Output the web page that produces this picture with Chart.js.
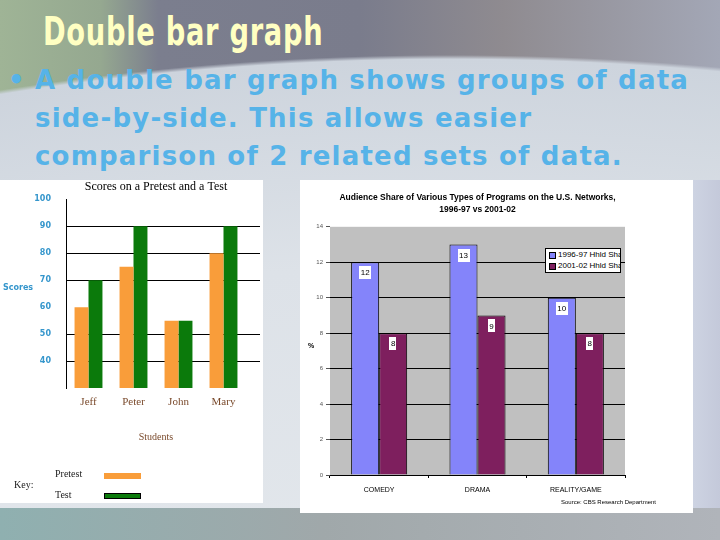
<!DOCTYPE html>
<html>
<head>
<meta charset="utf-8">
<script src="https://cdn.jsdelivr.net/npm/chart.js@4.4.1/dist/chart.umd.min.js"></script>
<style>
body {
    margin: 0;
    width: 720px;
    height: 540px;
    overflow: hidden;
    position: relative;
    background:
        linear-gradient(90deg, rgba(143,176,176,1) 0%, rgba(160,168,170,1) 45%, rgba(176,180,186,1) 100%) 0 508px / 720px 32px no-repeat,
        linear-gradient(90deg, #cdd3e2, #c4c9da) 693px 180px / 27px 330px no-repeat,
        radial-gradient(1440px 700px at 450px 755px, #e6eaee 0%, #dde2e8 70%, #cdd4dd 99.4%, rgba(0,0,0,0) 100%),
        linear-gradient(90deg, #9fb496 0%, #95a890 14%, #7b7e8e 22%, #7a7c8c 50%, #8f8b90 70%, #a3a7b6 100%);
}
.slide-title {
    position: absolute; left: 43px; top: 9px;
    font-family: "DejaVu Sans", sans-serif;
    font-weight: bold; font-size: 39px; letter-spacing: 1px;
    color: #ffffc2;
    transform: scaleX(0.7);
    transform-origin: 0 0;
    white-space: nowrap;
}
.bullet {
    position: absolute; left: 8px; top: 61px; width: 712px;
    font-family: "DejaVu Sans", sans-serif; font-weight: bold;
    font-size: 26px; line-height: 38px; letter-spacing: 1.2px; color: #56b3e8;
}
.bullet span { position: absolute; left: 0; top: 0; }
.bullet div { margin-left: 27px; white-space: nowrap; }
canvas { position: absolute; background: #fff; }
#scores { left: 0; top: 180px; }
#share { left: 300px; top: 180px; }
.note { position: absolute; white-space: nowrap; }
</style>
</head>
<body>
<div class="slide-title">Double bar graph</div>
<div class="bullet"><span>•</span>
    <div>A double bar graph shows groups of data</div>
    <div>side-by-side. This allows easier</div>
    <div>comparison of 2 related sets of data.</div>
</div>

<canvas id="scores" width="263" height="323"></canvas>
<canvas id="share" width="393" height="333"></canvas>

<div class="note" style="left:3px;top:283px;font:bold 8px 'DejaVu Sans';color:#3596cc;">Scores</div>
<div class="note" style="left:14px;top:479px;font:10px 'Liberation Serif';color:#222;">Key:</div>
<div class="note" style="left:55px;top:468px;font:10px 'Liberation Serif';color:#222;">Pretest</div>
<div class="note" style="left:55px;top:489px;font:10px 'Liberation Serif';color:#222;">Test</div>
<div class="note" style="left:104px;top:473px;width:37px;height:6px;background:#f99d3a;"></div>
<div class="note" style="left:104px;top:493px;width:35px;height:4px;background:#0b7a0b;border:1px solid #000;"></div>

<div class="note" style="left:308px;top:342px;font:bold 7px 'Liberation Sans';color:#000;">%</div>
<div class="note" style="left:545px;top:248px;width:74px;height:23px;background:#fff;border:1px solid #000;overflow:hidden;font:8px 'Liberation Sans';color:#000;">
    <div style="position:absolute;left:3px;top:3px;width:5px;height:5px;background:#8484fa;border:1px solid #000;"></div>
    <div style="position:absolute;left:12px;top:1px;">1996-97 Hhld Share</div>
    <div style="position:absolute;left:3px;top:14px;width:5px;height:5px;background:#7e1f5e;border:1px solid #000;"></div>
    <div style="position:absolute;left:12px;top:12px;">2001-02 Hhld Share</div>
</div>
<div class="note" style="right:64px;top:499px;font:6px 'Liberation Sans';color:#000;">Source: CBS Research Department</div>

<script>
// Scores on a pretest and a test
const students = ['Jeff', 'Peter', 'John', 'Mary'];
const pretestScores = [60, 75, 55, 80];
const testScores = [70, 90, 55, 90];
const scoreTicks = [40, 50, 60, 70, 80, 90, 100];
const scoreGridLines = [40, 50, 70, 80, 90];

// Audience share of program types
const programs = ['COMEDY', 'DRAMA', 'REALITY/GAME'];
const share9697 = [12, 13, 10];
const share0102 = [8, 9, 8];

// horizontal rules on the scores chart run past the last bar group
const scoreRules = {
    id: 'scoreRules',
    beforeDatasetsDraw(chart) {
        const ctx = chart.ctx;
        const y = chart.scales.y;
        ctx.save();
        ctx.strokeStyle = '#000';
        ctx.lineWidth = 1;
        scoreGridLines.forEach(v => {
            const py = Math.round(y.getPixelForValue(v)) + 0.5;
            ctx.beginPath();
            ctx.moveTo(chart.chartArea.left, py);
            ctx.lineTo(chart.width - 3, py);
            ctx.stroke();
        });
        ctx.restore();
    }
};

const scoresChart = new Chart(document.getElementById('scores'), {
    type: 'bar',
    data: {
        labels: students,
        datasets: [
            {
                label: 'Pretest',
                data: pretestScores,
                backgroundColor: '#f99d3a',
                categoryPercentage: 0.62,
                barPercentage: 1
            },
            {
                label: 'Test',
                data: testScores,
                backgroundColor: '#0b7a0b',
                categoryPercentage: 0.62,
                barPercentage: 1
            }
        ]
    },
    options: {
        responsive: false,
        animation: false,
        layout: {
            padding: { left: 0, right: 17, top: 0, bottom: 60 }
        },
        plugins: {
            legend: { display: false },
            tooltip: { enabled: false },
            title: {
                display: true,
                text: 'Scores on a Pretest and a Test',
                fullSize: false,
                color: '#000',
                font: { family: 'Liberation Serif', size: 12, weight: 'normal' },
                padding: { top: 0, bottom: 5 }
            }
        },
        scales: {
            x: {
                grid: { display: false },
                border: { display: false },
                ticks: {
                    color: '#7a4a2c',
                    font: { family: 'Liberation Serif', size: 11 },
                    padding: 0
                },
                title: {
                    display: true,
                    text: 'Students',
                    color: '#7a4a2c',
                    font: { family: 'Liberation Serif', size: 10 },
                    padding: { top: 15, bottom: 0 }
                },
                afterFit: scale => {
                    scale.height = 55;
                }
            },
            y: {
                min: 30,
                max: 100,
                afterBuildTicks: scale => {
                    scale.ticks = scoreTicks.map(v => ({ value: v }));
                },
                afterFit: scale => {
                    scale.width = 66;
                },
                grid: { display: false },
                border: { display: true, color: '#000', width: 1 },
                ticks: {
                    color: '#3596cc',
                    font: { family: 'DejaVu Sans', size: 8, weight: 'bold' },
                    padding: 7
                }
            }
        }
    },
    plugins: [scoreRules]
});

// grey plot area and white value boxes on the share chart
const plotBackground = {
    id: 'plotBackground',
    beforeDraw(chart) {
        const a = chart.chartArea;
        chart.ctx.save();
        chart.ctx.fillStyle = '#c0c0c0';
        chart.ctx.fillRect(a.left, a.top, a.right - a.left, a.bottom - a.top);
        chart.ctx.restore();
    }
};

const valueBoxes = {
    id: 'valueBoxes',
    afterDatasetsDraw(chart) {
        const ctx = chart.ctx;
        ctx.save();
        ctx.font = '8px "Liberation Sans"';
        ctx.textAlign = 'center';
        ctx.textBaseline = 'middle';
        chart.data.datasets.forEach((ds, i) => {
            chart.getDatasetMeta(i).data.forEach((bar, j) => {
                const txt = String(ds.data[j]);
                const w = ctx.measureText(txt).width + 3;
                ctx.fillStyle = '#fff';
                ctx.fillRect(Math.round(bar.x - w / 2), Math.round(bar.y) + 4, Math.round(w), 13);
                ctx.fillStyle = '#000';
                ctx.fillText(txt, bar.x, bar.y + 11);
            });
        });
        ctx.restore();
    }
};

const shareChart = new Chart(document.getElementById('share'), {
    type: 'bar',
    data: {
        labels: programs,
        datasets: [
            {
                label: '1996-97 Hhld Share',
                data: share9697,
                backgroundColor: '#8484fa',
                borderColor: '#000',
                borderWidth: 1,
                categoryPercentage: 0.57,
                barPercentage: 1
            },
            {
                label: '2001-02 Hhld Share',
                data: share0102,
                backgroundColor: '#7e1f5e',
                borderColor: '#000',
                borderWidth: 1,
                categoryPercentage: 0.57,
                barPercentage: 1
            }
        ]
    },
    options: {
        responsive: false,
        animation: false,
        layout: {
            padding: { left: 0, right: 68, top: 0, bottom: 18 }
        },
        plugins: {
            legend: { display: false },
            tooltip: { enabled: false },
            title: {
                display: true,
                text: ['Audience Share of Various Types of Programs on the U.S. Networks,', '1996-97 vs 2001-02'],
                fullSize: false,
                color: '#000',
                font: { family: 'Liberation Sans', size: 8.5, weight: 'bold', lineHeight: 1.4 },
                padding: { top: 12, bottom: 11 }
            }
        },
        scales: {
            x: {
                offset: true,
                grid: {
                    display: true,
                    offset: true,
                    drawOnChartArea: false,
                    drawTicks: true,
                    tickLength: 3,
                    color: '#000'
                },
                border: { display: true, color: '#000', width: 1 },
                ticks: {
                    color: '#000',
                    font: { family: 'Liberation Sans', size: 7 },
                    padding: 8
                },
                afterFit: scale => {
                    scale.height = 20;
                }
            },
            y: {
                min: 0,
                max: 14,
                ticks: {
                    stepSize: 2,
                    color: '#555',
                    font: { family: 'Liberation Sans', size: 6 },
                    padding: 3
                },
                grid: {
                    color: c => (c.tick.value === 0 || c.tick.value === 14) ? 'rgba(0,0,0,0)' : '#000',
                    tickColor: '#555',
                    tickLength: 4
                },
                border: { display: false },
                afterFit: scale => {
                    scale.width = 30;
                }
            }
        }
    },
    plugins: [plotBackground, valueBoxes]
});
</script>
</body>
</html>
